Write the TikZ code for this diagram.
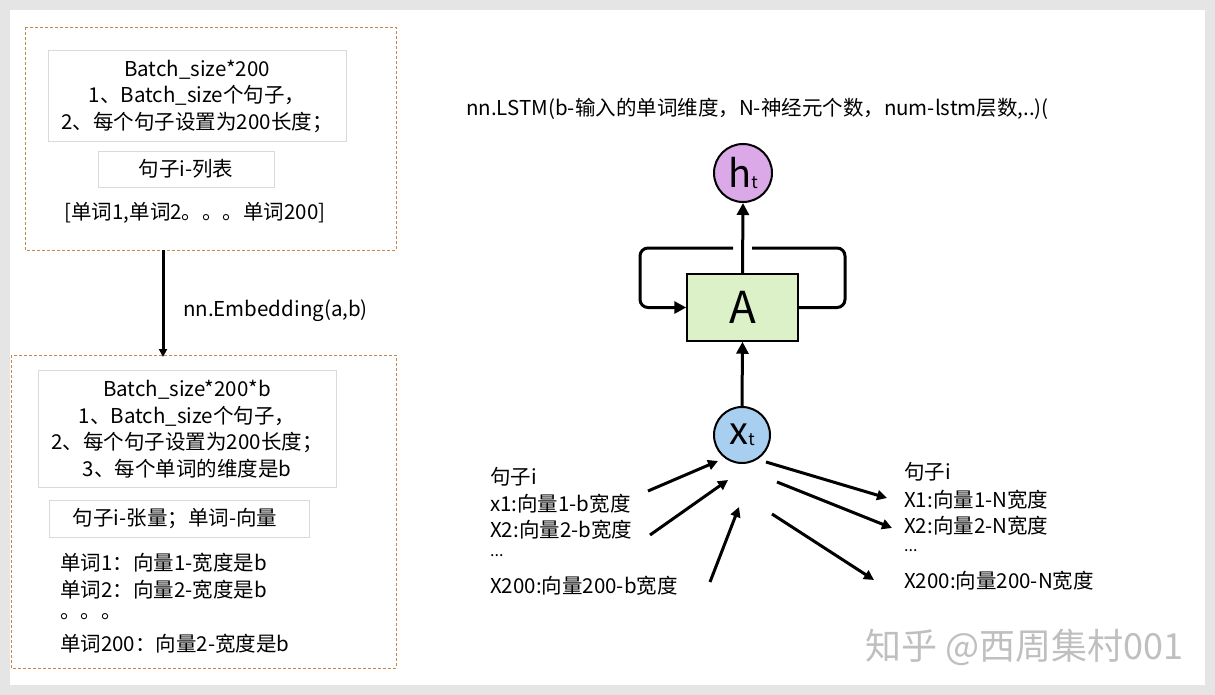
\documentclass[tikz,border=0pt]{standalone}
\usepackage{fontspec}
\setmainfont{Noto Sans CJK SC}
\usetikzlibrary{arrows.meta}
\definecolor{dashc}{HTML}{C8874A}
\definecolor{hfill}{HTML}{DBA8E8}
\definecolor{xfill}{HTML}{A9CFF0}
\definecolor{afill}{HTML}{DCF1C8}
\tikzset{
 x=1pt,y=-1pt,
 outerbox/.style={draw=dashc,densely dashed,line width=0.8pt},
 innerbox/.style={draw=black!15,line width=0.8pt},
 txt/.style={font=\fontsize{20.5}{26.5}\selectfont,align=center,inner sep=0pt},
 ltxt/.style={font=\fontsize{20.5}{26}\selectfont,anchor=west,inner sep=0pt},
 arr/.style={line width=3pt,-{Triangle[length=12pt,width=12pt]}},
 sarr/.style={line width=3pt,-{Triangle[length=10pt,width=10pt]}},
}
\begin{document}
\begin{tikzpicture}
\fill[black!10] (0,0) rectangle (1215,695);
\useasboundingbox (0,0) rectangle (1215,695);
\fill[white] (10,10) rectangle (1205,685);
% box 1
\draw[outerbox] (25,27) rectangle (396,250);
\draw[innerbox] (48,50) rectangle (346,141);
\node[txt] (t1) at (197,96) {Batch\_size*200\\1、Batch\_size个句子，\\2、每个句子设置为200长度；};
\draw[innerbox] (98,151) rectangle (274,187);
\node[txt] (t2) at (186,169) {句子i-列表};
\node[txt] (t3) at (195,213) {[单词1,单词2。。。单词200]};
\coordinate (b1) at (163,250);
\coordinate (b2) at (163,357);
\draw[line width=3pt,-{Triangle[length=8pt,width=8pt]}] (b1) -- (b2);
\node[ltxt] (emb) at (183,311) {nn.Embedding(a,b)};
% box 2
\draw[outerbox] (11,355) rectangle (396,668);
\draw[innerbox] (38,370) rectangle (336,487);
\node[txt] (t4) at (187,429) {Batch\_size*200*b\\1、Batch\_size个句子，\\2、每个句子设置为200长度；\\3、每个单词的维度是b};
\draw[innerbox] (49,500) rectangle (309,537);
\node[txt] (t5) at (175,519) {句子i-张量；单词-向量};
\node[ltxt] (w1) at (60,563) {单词1：向量1-宽度是b};
\node[ltxt] (w2) at (60,590) {单词2：向量2-宽度是b};
\node[ltxt] (w3) at (60,617) {。。。};
\node[ltxt] (w4) at (60,644) {单词200：向量2-宽度是b};
% right
\node[ltxt] (title) at (466,109) {nn.LSTM(b-输入的单词维度，N-神经元个数，num-lstm层数,..)(};
\node[circle,draw,line width=2pt,fill=hfill,minimum size=58pt,inner sep=0pt,font=\fontsize{38}{38}\selectfont] (h) at (743,173) {h\raisebox{-1pt}{\fontsize{17}{17}\selectfont t}};
\node[draw,line width=1.5pt,fill=afill,minimum width=111pt,minimum height=67pt,font=\fontsize{44}{44}\selectfont] (A) at (742.5,307.5) {A};
\node[circle,draw,line width=2pt,fill=xfill,minimum size=56pt,inner sep=0pt,font=\fontsize{38}{38}\selectfont] (x) at (742,435) {x\raisebox{-1pt}{\fontsize{17}{17}\selectfont t}};
\draw[arr] (A.north) -- (h.south);
\draw[arr] (x.north) -- (A.south);
\draw[line width=3pt,rounded corners=8pt] (A.east) -- (845,307.5) -- (845,248) -- (752,248);
\draw[line width=3pt,rounded corners=8pt,-{Triangle[length=12pt,width=12pt]}] (733,248) -- (640,248) -- (640,307.5) -- (A.west);
% inputs
\coordinate (i1s) at (648,491); \coordinate (i1e) at (718,461);
\coordinate (i2s) at (650,535); \coordinate (i2e) at (728,480);
\coordinate (i3s) at (710,582); \coordinate (i3e) at (739,507);
\draw[sarr] (i1s) -- (i1e);
\draw[sarr] (i2s) -- (i2e);
\draw[sarr] (i3s) -- (i3e);
\coordinate (o1s) at (766,462); \coordinate (o1e) at (887,498);
\coordinate (o2s) at (777,482); \coordinate (o2e) at (892,528);
\coordinate (o3s) at (772,514); \coordinate (o3e) at (874,580);
\draw[sarr] (o1s) -- (o1e);
\draw[sarr] (o2s) -- (o2e);
\draw[sarr] (o3s) -- (o3e);
\node[ltxt] (l1) at (490,477) {句子i};
\node[ltxt] (l2) at (490,504) {x1:向量1-b宽度};
\node[ltxt] (l3) at (490,530) {X2:向量2-b宽度};
\node[ltxt,font=\fontsize{16}{16}\selectfont] (l4) at (490,556) {...};
\node[ltxt] (l5) at (490,586) {X200:向量200-b宽度};
\node[ltxt] (r1) at (904,472) {句子i};
\node[ltxt] (r2) at (904,500) {X1:向量1-N宽度};
\node[ltxt] (r3) at (904,526) {X2:向量2-N宽度};
\node[ltxt,font=\fontsize{16}{16}\selectfont] (r4) at (904,551) {...};
\node[ltxt] (r5) at (904,581) {X200:向量200-N宽度};
\node[ltxt,font=\fontsize{36}{36}\selectfont,text=black!25] (wm) at (865,647) {知乎 @西周集村001};
\end{tikzpicture}
\end{document}
